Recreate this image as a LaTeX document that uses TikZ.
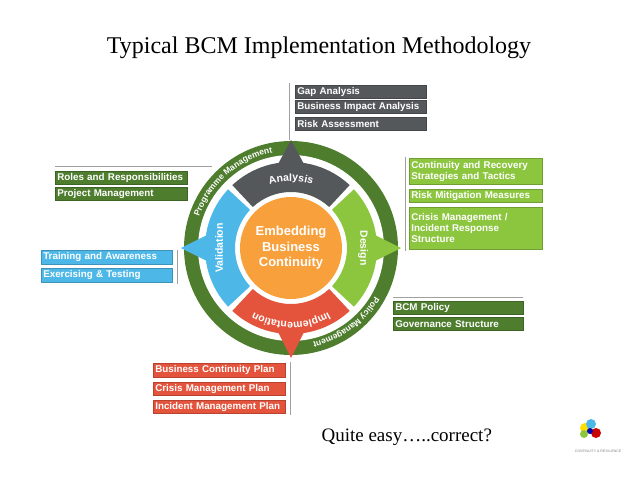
\documentclass[tikz,border=0pt]{standalone}
\usepackage{fontspec}
\setmainfont{Liberation Serif}
\setsansfont{Liberation Sans}
\usetikzlibrary{decorations.text}
\definecolor{cgray}{HTML}{55585B}
\definecolor{clg}{HTML}{8CC63F}
\definecolor{cdg}{HTML}{4E7D2E}
\definecolor{cblue}{HTML}{4DB8E8}
\definecolor{cor}{HTML}{F7A03C}
\definecolor{cred}{HTML}{E4533B}
\definecolor{cline}{HTML}{A0A0A0}
\tikzset{
 bx/.style={fill=#1,text=white,font=\sffamily\bfseries\fontsize{9.8}{11}\selectfont,anchor=north west,inner sep=2pt,align=left,draw=#1!80!black,line width=0.6pt},
 sep/.style={draw=cline,line width=1pt},
 lbl/.style={text=white,font=\sffamily\bfseries\fontsize{10.5}{12}\selectfont}
}
\begin{document}
\begin{tikzpicture}[x=1pt,y=-1pt]
\useasboundingbox (0,0) rectangle (638,479);
\node[font=\fontsize{24}{28}\selectfont] (title) at (319,48) {Typical BCM Implementation Methodology};
\coordinate (c) at (291,248);
% ring
\fill[cdg] (c) circle[radius=107];
\fill[white] (c) circle[radius=93];
% segments (y flipped: 270 = up)
\foreach \a/\b/\col in {227/313/cgray,-43/43/clg,47/133/cred,137/223/cblue}{
 \fill[\col] ([shift={(\a:86)}]c) arc[start angle=\a,end angle=\b,radius=86] -- ([shift={(\b:56)}]c) arc[start angle=\b,end angle=\a,radius=56] -- cycle;
}
% tips
\fill[cgray] ([shift={(-14,-82)}]c) -- ([shift={(0,-108)}]c) -- ([shift={(14,-82)}]c) -- cycle;
\fill[clg] ([shift={(82,-14)}]c) -- ([shift={(110,0)}]c) -- ([shift={(82,14)}]c) -- cycle;
\fill[cred] ([shift={(-14,82)}]c) -- ([shift={(0,110)}]c) -- ([shift={(14,82)}]c) -- cycle;
\fill[cblue] ([shift={(-82,-14)}]c) -- ([shift={(-110,0)}]c) -- ([shift={(-82,14)}]c) -- cycle;
% ring texts
\path[decorate,decoration={text along path,text align=center,text={|\sffamily\bfseries\fontsize{8.5}{9}\selectfont\color{white}|Programme Management}}]
 ([shift={(190:97)}]c) arc[start angle=190,end angle=268,radius=97];
\path[decorate,decoration={text along path,text align=center,text={|\sffamily\bfseries\fontsize{8.5}{9}\selectfont\color{white}|Policy Management}}]
 ([shift={(15:97)}]c) arc[start angle=15,end angle=92,radius=97];
\path[decorate,decoration={text along path,text align=center,text={|\sffamily\bfseries\fontsize{10.5}{12}\selectfont\color{white}|Analysis}}]
 ([shift={(240:67)}]c) arc[start angle=240,end angle=300,radius=67];
\path[decorate,decoration={text along path,text align=center,text={|\sffamily\bfseries\fontsize{10.5}{12}\selectfont\color{white}|Implementation}}]
 ([shift={(30:74)}]c) arc[start angle=30,end angle=150,radius=74];
\node[lbl,rotate=-90] (design) at ([shift={(72,0)}]c) {Design};
\node[lbl,rotate=90] (valid) at ([shift={(-72,0)}]c) {Validation};
% centre
\fill[cor] (c) circle[radius=51];
\node[text=white,font=\sffamily\bfseries\fontsize{13}{15.5}\selectfont,align=center] (centre) at (c) {Embedding\\Business\\Continuity};
% top gray
\node[bx=cgray,minimum width=131pt,text width=127pt,minimum height=13pt] (g1) at (295,85) {Gap Analysis};
\node[bx=cgray,minimum width=131pt,text width=127pt,minimum height=13pt] (g2) at (295,100) {Business Impact Analysis};
\node[bx=cgray,minimum width=131pt,text width=127pt,minimum height=13pt] (g3) at (295,117) {Risk Assessment};
\draw[sep] (289,83) -- (289,140);
% right light green
\node[bx=clg,minimum width=133pt,text width=129pt,minimum height=26pt] (d1) at (409,158) {Continuity and Recovery\\Strategies and Tactics};
\node[bx=clg,minimum width=133pt,text width=129pt,minimum height=13pt] (d2) at (409,189) {Risk Mitigation Measures};
\node[bx=clg,minimum width=133pt,text width=129pt,minimum height=42pt] (d3) at (409,207) {Crisis Management /\\Incident Response\\Structure};
\draw[sep] (405,157) -- (405,251);
% left dark green
\node[bx=cdg,minimum width=132pt,text width=128pt,minimum height=12pt] (p1) at (55,171) {Roles and Responsibilities};
\node[bx=cdg,minimum width=132pt,text width=128pt,minimum height=12pt] (p2) at (55,187) {Project Management};
\draw[sep] (55,166) -- (212,166);
% left blue
\node[bx=cblue,minimum width=131pt,text width=127pt,minimum height=14pt] (v1) at (41,250) {Training and Awareness};
\node[bx=cblue,minimum width=131pt,text width=127pt,minimum height=14pt] (v2) at (41,268) {Exercising \& Testing};
\draw[sep] (177,250) -- (177,284);
% right dark green
\node[bx=cdg,minimum width=130pt,text width=126pt,minimum height=12pt] (b1) at (393,301) {BCM Policy};
\node[bx=cdg,minimum width=130pt,text width=126pt,minimum height=13pt] (b2) at (393,317) {Governance Structure};
\draw[sep] (393,297) -- (523,297);
% bottom red
\node[bx=cred,minimum width=132pt,text width=128pt,minimum height=14pt] (r1) at (153,363) {Business Continuity Plan};
\node[bx=cred,minimum width=132pt,text width=128pt,minimum height=13pt] (r2) at (153,382) {Crisis Management Plan};
\node[bx=cred,minimum width=132pt,text width=128pt,minimum height=13pt] (r3) at (153,400) {Incident Management Plan};
\draw[sep] (290,362) -- (290,415);
% footer
\node[font=\fontsize{19}{22}\selectfont,anchor=west] (q) at (318,437) {Quite easy…..correct?};
\fill[yellow!80!orange] (585,428) circle[radius=5];
\fill[cblue] (591,424) circle[radius=5];
\fill[clg] (584,434) circle[radius=4];
\fill[red!80!black] (596,433) circle[radius=5];
\fill[blue!70!black] (590,431) circle[radius=3];
\node[font=\sffamily\fontsize{3.5}{4}\selectfont,text=gray] (logo) at (598,451) {CONTINUITY \& RESILIENCE};
\end{tikzpicture}
\end{document}
